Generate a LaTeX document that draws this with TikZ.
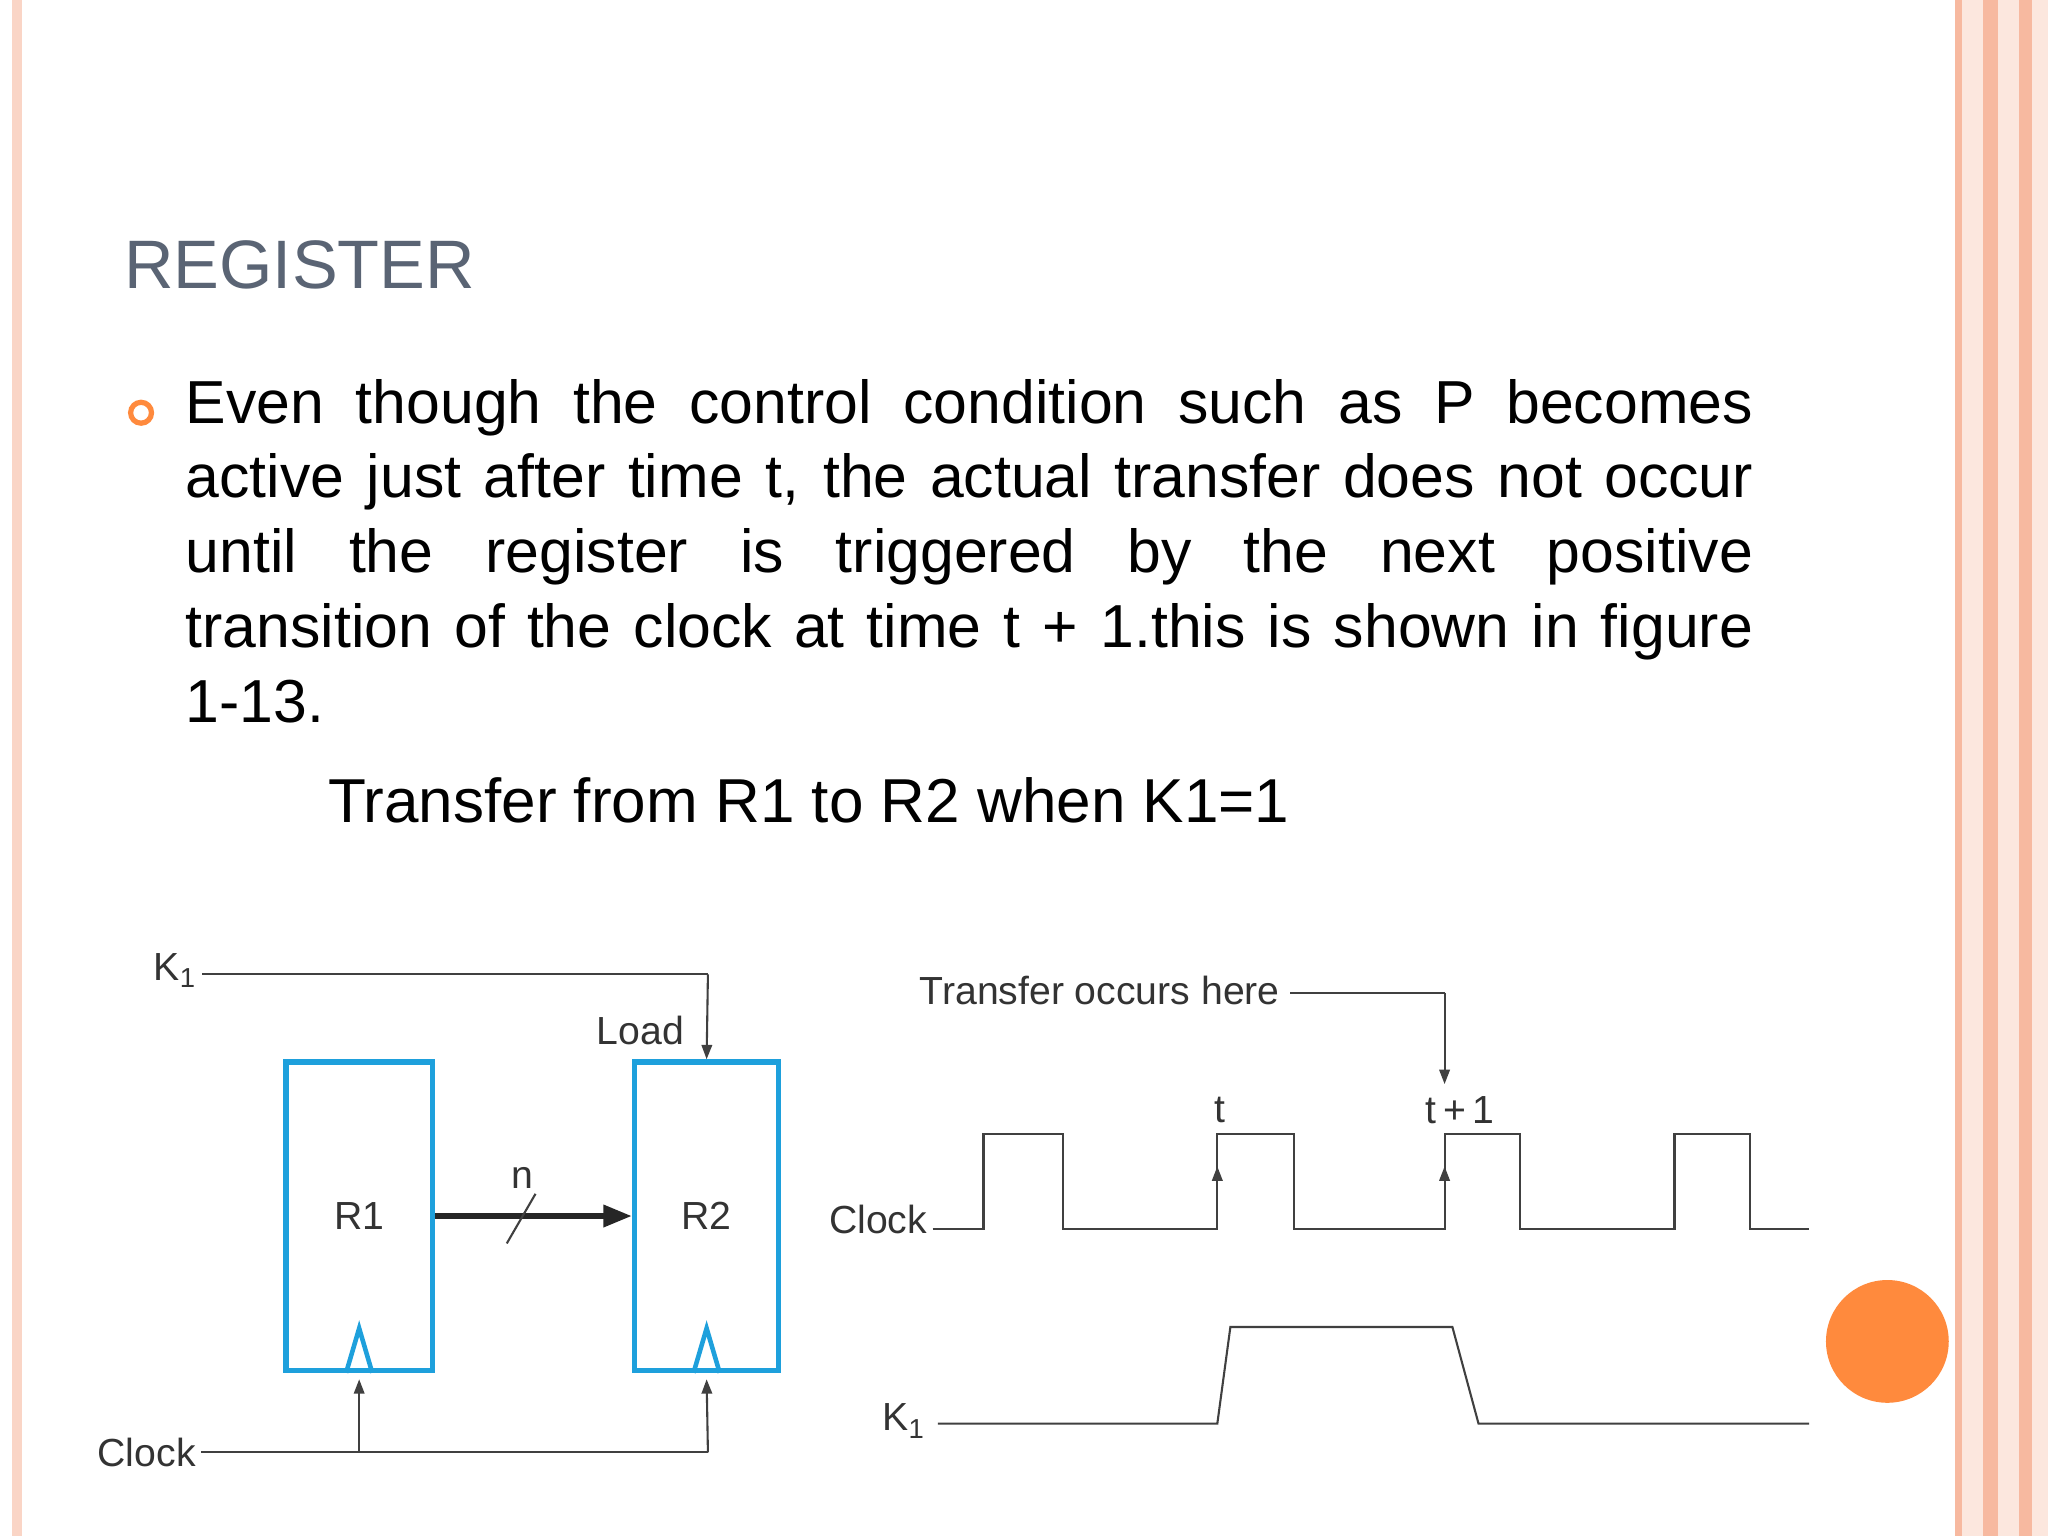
\documentclass[tikz,border=0pt]{standalone}
\usepackage{fontspec}
\setmainfont{Liberation Sans}
\usetikzlibrary{arrows.meta}
\definecolor{salmon}{HTML}{F7B9A0}
\definecolor{titlegrey}{HTML}{5A6474}
\definecolor{regblue}{HTML}{1EA0DC}
\definecolor{dot}{HTML}{FF8A3D}
\newcommand{\jline}[1]{\leavevmode{\spaceskip=0.27em plus 1fil minus 0.1em\hbox to 1200pt{#1}}}
\tikzset{
  dtext/.style={inner sep=0pt,font=\fontsize{30}{32}\selectfont,text=black!80},
  wire/.style={line width=1.6pt,black!75},
  reg/.style={draw=regblue,line width=4pt},
  tip/.style={-{Triangle[length=11pt,width=8pt]}}
}
\begin{document}
\begin{tikzpicture}[x=1pt,y=-1pt]
\useasboundingbox (0,0) rectangle (1568,1176);
\fill[white] (0,0) rectangle (1568,1176);
% borders
\fill[salmon!60] (9,0) rectangle (17,1176);
\fill[salmon!35] (1497,0) rectangle (1568,1176);
\fill[salmon] (1497,0) rectangle (1502,1176);
\fill[salmon] (1518,0) rectangle (1530,1176);
\fill[salmon] (1546,0) rectangle (1556,1176);
\fill[dot] (1445,1027) circle (47);
% title
\node[anchor=base west,inner sep=0pt,text=titlegrey,font=\fontsize{52.5}{55}\selectfont] (title) at (95,221) {REGISTER};
\draw[dot,line width=4pt] (108,316) circle (8);
\node[anchor=north west,inner sep=0pt,text width=1210pt,align=left,font=\fontsize{46.5}{57.3}\selectfont] (body) at (142,290)
{\jline{Even though the control condition such as P becomes}\\
\jline{active just after time t, the actual transfer does not occur}\\
\jline{until the register is triggered by the next positive}\\
\jline{transition of the clock at time t + 1.this is shown in figure}\\
1-13.};
\node[anchor=base west,inner sep=0pt,font=\fontsize{47.5}{50}\selectfont] (sub) at (251,630) {Transfer from R1 to R2 when K1=1};
% left diagram
\node[dtext,anchor=east] (k1) at (150,743) {K\textsubscript{1}};
\node[reg,minimum width=112pt,minimum height=236pt,inner sep=0pt] (r1) at (275,931) {};
\node[reg,minimum width=110pt,minimum height=236pt,inner sep=0pt] (r2) at (541,931) {};
\node[dtext] at (r1) {R1};
\node[dtext] at (r2) {R2};
\node[dtext,anchor=south east] (load) at (524,800) {Load};
\coordinate (k1e) at (542,746);
\draw[wire] (k1.east) ++(5,3) -- (k1e);
\draw[wire,tip] (k1e) -- (r2.north);
\draw[line width=5pt,black!85,-{Triangle[length=22pt,width=16pt]}] (r1.east) -- (r2.west);
\draw[wire] (388,952) -- (410,914);
\node[dtext] (n) at (400,902) {n};
\foreach \r in {r1,r2}{
  \draw[regblue,line width=3.5pt] ([xshift=-10pt]\r.south) -- ([yshift=34pt]\r.south) -- ([xshift=10pt]\r.south);
}
\node[dtext,anchor=east] (clk) at (150,1112) {Clock};
\coordinate (c1) at (275,1112);
\coordinate (c2) at (542,1112);
\draw[wire] (clk.east) ++(4,0) -- (c2);
\draw[wire,tip] (c1) -- ([yshift=-5pt]r1.south);
\draw[wire,tip] (c2) -- ([yshift=-5pt]r2.south);
% timing
\node[dtext,anchor=east] (clk2) at (710,934) {Clock};
\draw[wire] (714,941) -- (753,941) -- (753,868) -- (814,868) -- (814,941) -- (932,941) -- (932,868) -- (991,868) -- (991,941) -- (1106,941) -- (1106,868) -- (1164,868) -- (1164,941) -- (1282,941) -- (1282,868) -- (1340,868) -- (1340,941) -- (1385,941);
\coordinate (a1) at (932,941);
\coordinate (a2) at (1106,941);
\draw[wire,tip] (a1) -- (932,893);
\draw[wire,tip] (a2) -- (1106,893);
\node[dtext] (t) at (934,850) {t};
\node[dtext] (t1) at (1118,850) {t\,+\,1};
\node[dtext,anchor=east] (toh) at (980,758) {Transfer occurs here};
\coordinate (tc) at (1106,760);
\draw[wire] (toh.east) ++(8,2) -- (tc);
\draw[wire,tip] (tc) -- (1106,830);
\node[dtext,anchor=east] (k2) at (708,1088) {K\textsubscript{1}};
\draw[wire] (718,1090) -- (932,1090) -- (942,1016) -- (1112,1016) -- (1132,1090) -- (1385,1090);
\end{tikzpicture}
\end{document}
